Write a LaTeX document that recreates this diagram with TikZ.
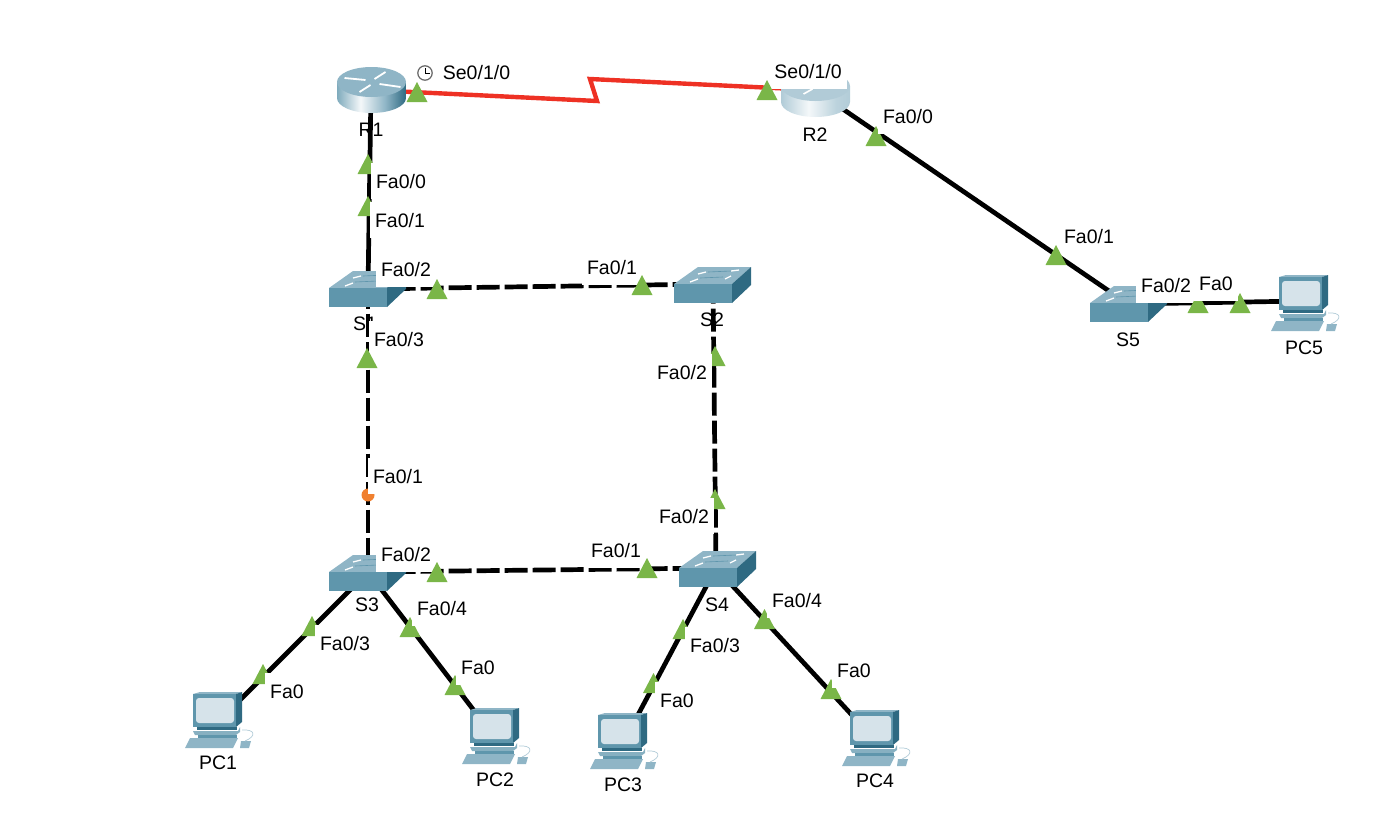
\documentclass[tikz,border=0pt]{standalone}
\usepackage{fontspec}
\setmainfont{Liberation Sans}
\definecolor{swfront}{HTML}{5F96AC}
\definecolor{swside}{HTML}{2F6A82}
\definecolor{swtop}{HTML}{8FB5C6}
\definecolor{tri}{HTML}{7AB648}
\definecolor{redlink}{HTML}{EE3124}
\definecolor{orangept}{HTML}{F08030}
\definecolor{scr}{HTML}{D6E3EA}
\pgfdeclarehorizontalshading{rbody}{100bp}{color(0bp)=(swfront!80!white); color(25bp)=(swfront!80!white); color(42bp)=(white!90!swtop); color(60bp)=(swtop); color(75bp)=(swside); color(100bp)=(swside)}
\pgfdeclarehorizontalshading{rpale}{100bp}{color(0bp)=(swtop!70!white); color(25bp)=(swtop!70!white); color(45bp)=(white!90!swtop); color(65bp)=(swtop!60!white); color(100bp)=(swtop!90!white)}
\tikzset{
  x=1pt,y=-1pt,
  netlink/.style={line width=4.7pt,black},
  dashlink/.style={line width=4.7pt,black,dash pattern=on 23pt off 5pt,dash phase=4pt},
  seriallink/.style={line width=4.4pt,redlink},
  port/.style={font=\fontsize{19.5}{21}\selectfont,fill=white,anchor=base,yshift=-6.5pt,inner xsep=5.5pt,inner ysep=0pt,text height=25.5pt,text depth=10.5pt},
  devlabel/.style={font=\fontsize{19.5}{21}\selectfont,inner sep=0pt},
  dev/.style={inner sep=0pt,minimum size=1pt},
  tripoint/.style={fill=tri,draw=none},
  switchpic/.pic={
    \fill[swtop] (0,0) -- (24,-17) -- (77,-17) -- (58,0) -- cycle;
    \fill[swfront] (0,0) rectangle (58,19);
    \fill[swside] (58,0) -- (77,-17) -- (77,1) -- (58,19) -- cycle;
    \draw[swfront,line width=.6pt] (34,-12) -- (57,-13) (26,-6) -- (49,-7);
    \draw[white,line width=1.3pt] (24,-10) -- (32,-12) (57,-13) -- (65,-14) (16,-2) -- (24,-5) (51,-5) -- (57,-8);
  },
  routerpic/.pic={
    \path[shading=rbody] (-34.5,0) -- (-34.5,16) arc[start angle=180,end angle=360,x radius=34.5pt,y radius=15pt] -- (34.5,0) -- cycle;
    \fill[swtop] (0,0) ellipse[x radius=34.5pt,y radius=15pt];
    \draw[white,line width=1.8pt] (-27,-4) -- (-6,-2) (3,-3) -- (14,-10) (-1,3) -- (-12,10) (29,5) -- (8,2);
  },
  routerpale/.pic={
    \path[shading=rpale] (-34.5,0) -- (-34.5,16) arc[start angle=180,end angle=360,x radius=34.5pt,y radius=15pt] -- (34.5,0) -- cycle;
    \fill[swtop!70!white] (0,0) ellipse[x radius=34.5pt,y radius=15pt];
    \draw[white,line width=1.6pt] (-3,3) -- (-12,8);
  },
  pcpic/.pic={
    \fill[swtop] (0,0) -- (7,-2) -- (49,-2) -- (43,0) -- cycle;
    \fill[swfront] (0,0) rectangle (43,33);
    \fill[swside] (43,0) -- (49,-2) -- (49,28) -- (43,33) -- cycle;
    \fill[scr,rounded corners=3pt] (3,4) rectangle (41,29);
    \fill[swside] (4,33) rectangle (44,36);
    \fill[swfront!75!white] (0,37) -- (45,37) -- (47,33) -- (47,38) -- (43,41) -- (2,41) -- cycle;
    \fill[swfront] (5,41) rectangle (44,44);
    \fill[swtop] (-3,44) -- (45,44) -- (40,54) -- (-8,54) -- cycle;
    \fill[swtop] (48,47) -- (58,47) -- (56,54) -- (47,54) -- cycle;
    \draw[swtop!70!white,line width=.7pt] (52,47) .. controls (64,42) and (62,35) .. (49,36);
  },
}
\newcommand{\tria}[2]{\fill[tripoint] (#1,#2) -- (#1-10.5,#2+20) -- (#1+10.5,#2+20) -- cycle;}
\begin{document}
\begin{tikzpicture}
\useasboundingbox (0,0) rectangle (1396,838);
% anchors of the devices
\node[dev] (R1) at (371,90) {};
\node[dev] (R2) at (815,90) {};
\node[dev] (S1) at (368,289) {};
\node[dev] (S2) at (713,284) {};
\node[dev] (S3) at (368,572) {};
\node[dev] (S4) at (716,568) {};
\node[dev] (S5) at (1128,304) {};
\node[dev] (PC1) at (218,722) {};
\node[dev] (PC2) at (495,738) {};
\node[dev] (PC3) at (623,743) {};
\node[dev] (PC4) at (875,740) {};
\node[dev] (PC5) at (1304,301) {};
\coordinate (K1) at (597,101);
\coordinate (K2) at (590,79);
% links
\draw[seriallink] (R1) -- (K1) -- (K2) -- (R2);
\draw[netlink] (R1) -- (S1);
\draw[netlink] (R2) -- (S5);
\draw[netlink] (S5) -- (PC5);
\draw[dashlink] (S1) -- (S2);
\draw[dashlink] (S1) -- (S3);
\draw[dashlink] (S2) -- (S4);
\draw[dashlink] (S3) -- (S4);
\draw[netlink] (S3) -- (PC1);
\draw[netlink] (S3) -- (PC2);
\draw[netlink] (S4) -- (PC3);
\draw[netlink] (S4) -- (PC4);
% devices
\pic at (371.5,82) {routerpic};
\pic at (815.5,86) {routerpale};
\pic at (329,288) {switchpic};
\pic at (674,284) {switchpic};
\pic at (329,572) {switchpic};
\pic at (679,568) {switchpic};
\pic at (1090,303) {switchpic};
\pic at (193,694) {pcpic};
\pic at (470,710) {pcpic};
\pic at (598,715) {pcpic};
\pic at (850,712) {pcpic};
\pic at (1279,277) {pcpic};
% device names
\node[devlabel] (nR1) at (371,130) {R1};
\node[devlabel] (nR2) at (815,135) {R2};
\node[devlabel] (nS1) at (365,324) {S1};
\node[devlabel] (nS2) at (712,320) {S2};
\node[devlabel] (nS3) at (367,605) {S3};
\node[devlabel] (nS4) at (717,605) {S4};
\node[devlabel] (nS5) at (1128,340) {S5};
\node[devlabel] (nPC1) at (218,763) {PC1};
\node[devlabel] (nPC2) at (495,780) {PC2};
\node[devlabel] (nPC3) at (623,785) {PC3};
\node[devlabel] (nPC4) at (875,781) {PC4};
\node[devlabel] (nPC5) at (1304,348) {PC5};
% labels that lie under their link light
\node[port] (a1) at (406,270) {Fa0/2};
\node[port] (a2) at (406,555) {Fa0/2};
\node[port] (a3) at (1166,286) {Fa0/2};
\node[port] (a4) at (808,72) {Se0/1/0};
\node[port] (b1) at (476.5,73) {Se0/1/0};
\node[port] (b4) at (612,268) {Fa0/1};
\node[port] (b5) at (399,340) {Fa0/3};
\node[port] (b9) at (616,551) {Fa0/1};
\node[port] (b19) at (1089,237) {Fa0/1};
% link lights
\tria{417}{82}
\tria{767}{80}
\tria{876}{126}
\tria{1056}{245}
\tria{1198}{293}
\tria{1240}{293}
\tria{368}{154}
\tria{368}{196}
\tria{437}{279}
\tria{642}{275}
\tria{367}{348}
\tria{715}{346}
\tria{437}{562}
\tria{647}{558}
\tria{715}{489}
\tria{312}{616}
\tria{263}{664}
\tria{410}{617}
\tria{455}{675}
\tria{683}{619}
\tria{653.5}{673}
\tria{764.5}{609}
\tria{831}{679}
\fill[orangept] (368,495) circle[radius=6.5pt];
% clock
\draw[gray!80!black,line width=1.2pt,fill=white] (425,73) circle[radius=7.2pt];
\draw[black,line width=.9pt] (425,68) -- (425,73) -- (430,73);
% port labels on top of their link light
\node[port] (b2) at (401,182) {Fa0/0};
\node[port] (b3) at (400,221) {Fa0/1};
\node[port] (b6) at (682,373) {Fa0/2};
\node[port] (b7) at (398,477) {Fa0/1};
\node[port] (b8) at (684,517) {Fa0/2};
\node[port] (b10) at (345,644) {Fa0/3};
\node[port] (b11) at (287,692) {Fa0};
\node[port] (b12) at (442,609) {Fa0/4};
\node[port] (b13) at (478,668) {Fa0};
\node[port] (b14) at (715,646) {Fa0/3};
\node[port] (b15) at (677,701) {Fa0};
\node[port] (b16) at (797,601) {Fa0/4};
\node[port] (b17) at (854,671) {Fa0};
\node[port] (b18) at (908,117) {Fa0/0};
\node[port] (b20) at (1216,284) {Fa0};
\end{tikzpicture}
\end{document}
